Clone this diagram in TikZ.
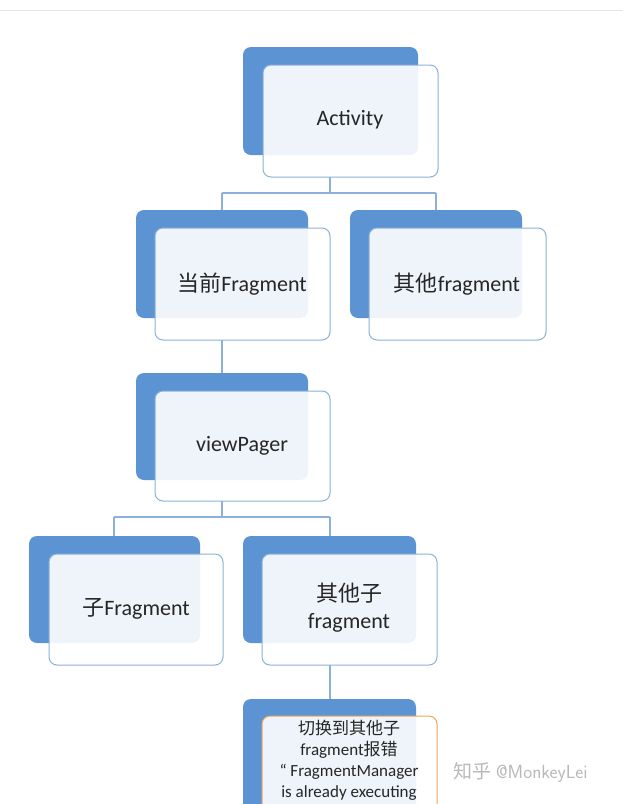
\documentclass[tikz,border=0pt]{standalone}
\usepackage{fontspec}
\setmainfont{Carlito}
\newfontfamily\cjk{Noto Sans CJK SC}
\definecolor{bblue}{HTML}{5B93D3}
\definecolor{lblue}{HTML}{8DB0D8}
\begin{document}
\begin{tikzpicture}[x=1pt,y=-1pt,
 back/.style={fill=bblue,rounded corners=8pt},
 front/.style={draw=lblue,line width=1pt,fill=white,fill opacity=0.9,rounded corners=8pt},
 lbl/.style={font=\fontsize{22}{27}\selectfont,text=black!85,align=center},
 conn/.style={draw=lblue,line width=1.2pt}]
\useasboundingbox (0,0) rectangle (623,804);
\begin{scope}
\clip (0,0) rectangle (623,804);
\fill[white] (0,0) rectangle (623,804);
\draw[gray!20] (0,10) -- (623,10);
% connectors
\coordinate (a) at (330,177); \coordinate (a1) at (330,193);
\coordinate (b1) at (222,193); \coordinate (c1) at (436,193);
\coordinate (b) at (222,210); \coordinate (c) at (436,210);
\draw[conn] (a) -- (a1) (b1) -- (c1) (b1) -- (b) (c1) -- (c);
\coordinate (d) at (222,340); \coordinate (e) at (222,373);
\draw[conn] (d) -- (e);
\coordinate (f) at (222,501); \coordinate (f1) at (222,517);
\coordinate (g1) at (114,517); \coordinate (h1) at (330,517);
\coordinate (g) at (114,536); \coordinate (h) at (330,536);
\draw[conn] (f) -- (f1) (g1) -- (h1) (g1) -- (g) (h1) -- (h);
\coordinate (i) at (330,665); \coordinate (j) at (330,699);
\draw[conn] (i) -- (j);
% boxes
\fill[back] (243,47) rectangle (418,155);
\draw[front] (263,65) rectangle (438,177);
\node[lbl] (act) at (350,120) {Activity};
\fill[back] (136,210) rectangle (308,318);
\draw[front] (155,228) rectangle (330,340);
\node[lbl] (cur) at (242,284) {\cjk 当前\rmfamily Fragment};
\fill[back] (350,210) rectangle (522,318);
\draw[front] (369,228) rectangle (546,340);
\node[lbl] (oth) at (457,284) {\cjk 其他\rmfamily fragment};
\fill[back] (136,373) rectangle (308,480);
\draw[front] (155,391) rectangle (330,501);
\node[lbl] (vp) at (242,446) {viewPager};
\fill[back] (29,536) rectangle (200,643);
\draw[front] (49,554) rectangle (223,665);
\node[lbl] (sub) at (136,609) {\cjk 子\rmfamily Fragment};
\fill[back] (243,536) rectangle (416,643);
\draw[front] (262,554) rectangle (437,665);
\node[lbl] (osub) at (349,608) {{\cjk 其他子}\\fragment};
\fill[back] (243,699) rectangle (416,820);
\draw[front,draw=orange!60!brown!70] (262,716) rectangle (437,830);
\node[font=\fontsize{17}{21}\selectfont,text=black!85,align=center,anchor=north] (err) at (349,717)
 {{\cjk 切换到其他子}\\fragment{\cjk 报错}\\“ FragmentManager\\is already executing};
\node[text=gray!55,font=\fontsize{19}{21}\selectfont,anchor=west] (wm) at (450,772) {{\cjk 知乎} \sffamily @MonkeyLei};
\end{scope}
\end{tikzpicture}
\end{document}
